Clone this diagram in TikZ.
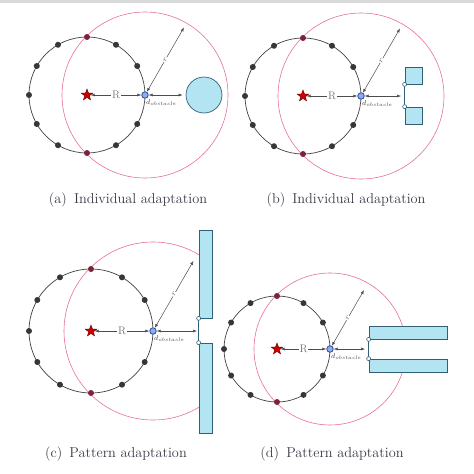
\documentclass[tikz,border=0pt]{standalone}
\usetikzlibrary{shapes.geometric,arrows.meta,calc}

\definecolor{rangepink}{RGB}{230,110,155}
\definecolor{obsfill}{RGB}{178,228,242}
\definecolor{obsdraw}{RGB}{50,95,120}
\definecolor{uavfill}{RGB}{140,175,235}
\definecolor{uavdraw}{RGB}{40,70,170}
\definecolor{dotgray}{RGB}{55,55,55}
\definecolor{dotred}{RGB}{125,35,55}
\definecolor{captext}{RGB}{60,55,70}

\tikzset{
  ring/.style={draw=black!75, line width=0.7pt},
  sensing/.style={draw=rangepink, line width=0.6pt},
  dot/.style={circle, fill=dotgray, inner sep=0pt, minimum size=6pt},
  reddot/.style={dot, fill=dotred},
  uav/.style={circle, draw=uavdraw, fill=uavfill, line width=0.8pt, inner sep=0pt, minimum size=6.5pt},
  target/.style={star, star points=5, star point ratio=2.4, fill=red!80!black, draw=red!40!black, inner sep=0pt, minimum size=12pt},
  obstacle/.style={rectangle, draw=obsdraw, fill=obsfill, line width=0.7pt, inner sep=0pt},
  hinge/.style={circle, draw=obsdraw, fill=white, line width=0.6pt, inner sep=0pt, minimum size=4pt},
  dist/.style={<->, draw=black!70, line width=0.5pt},
  caption/.style={text=captext, font=\fontsize{14.3}{16}\selectfont},
}

\begin{document}
\begin{tikzpicture}[x=1pt, y=-1pt, >={Latex[length=4pt,width=3pt]}]

\useasboundingbox (0,0) rectangle (474,474);
\fill[black!15] (0,0) rectangle (474,2.5);

% sensing ranges
\draw[sensing] (145,95) circle (83);
\draw[sensing] (361,96) circle (83);
\begin{scope}
  \clip (0,225) rectangle (199,474);
  \draw[sensing] (153,331) circle (89);
\end{scope}
\begin{scope}
  \clip (230,225) -- (474,225) -- (474,339) -- (369,339) -- (369,359) -- (474,359) -- (474,474) -- (230,474) -- cycle;
  \draw[sensing] (330,349) circle (76);
\end{scope}

% formation, target and uav
\foreach \p/\cx/\cy/\R/\len in {a/87/95/58/78, b/303/96/58/78, c/91/331/62/81, d/277/349/53/68}{
  \draw[ring] (\cx,\cy) circle (\R);
  \foreach \a in {30,60,120,150,180,210,240,300,330}
    \node[dot] (dot\p\a) at ($(\cx,\cy)+(\a:\R)$) {};
  \foreach \a in {90,270}
    \node[reddot] (dot\p\a) at ($(\cx,\cy)+(\a:\R)$) {};
  \node[target] (star\p) at (\cx,\cy) {};
  \node[uav] (uav\p) at ({\cx+\R},\cy) {};
  \draw[dist] (star\p) -- (uav\p) node[midway, fill=white, inner sep=1pt, text=black!55, font=\fontsize{11}{12}\selectfont] (Rlab\p) {R};
  \path (uav\p) ++(-60:\len) coordinate (tip\p);
  \draw[dist] (uav\p) -- (tip\p) node[midway, sloped, fill=white, inner sep=0.5pt, text=black!60, font=\footnotesize] (rlab\p) {$r$};
  \node[anchor=north west, inner sep=0pt, text=black!75, font=\scriptsize] (dlab\p) at ([xshift=1pt,yshift=-4pt]uav\p.center) {$d_{obstacle}$};
}

% (a) round obstacle
\node[obstacle, circle, minimum size=36pt] (obsa) at (204,95) {};
\draw[dist, shorten >=3pt] (uava) -- (obsa);

% (b) two blocks
\node[obstacle, minimum width=17pt, minimum height=17pt] (obsb1) at (413.5,75.5) {};
\node[obstacle, minimum width=17pt, minimum height=17pt] (obsb2) at (413.5,115.5) {};
\draw[obsdraw, line width=0.6pt] (obsb1.south west) -- (obsb2.north west);
\node[hinge] (hb1) at (obsb1.south west) {};
\node[hinge] (hb2) at (obsb2.north west) {};
\coordinate (gapb) at (405,96);
\draw[dist, shorten >=4pt] (uavb) -- (gapb);

% (c) wall with a gap
\node[obstacle, minimum width=13pt, minimum height=88pt] (obsc1) at (205.5,274) {};
\node[obstacle, minimum width=13pt, minimum height=90pt] (obsc2) at (205.5,388) {};
\draw[obsdraw, line width=0.6pt] (obsc1.south west) -- (obsc2.north west);
\node[hinge] (hc1) at (obsc1.south west) {};
\node[hinge] (hc2) at (obsc2.north west) {};
\coordinate (gapc) at (199,331);
\draw[dist, shorten >=2pt] (uavc) -- (gapc);

% (d) corridor
\node[obstacle, minimum width=78pt, minimum height=13pt] (obsd1) at (408,332.5) {};
\node[obstacle, minimum width=78pt, minimum height=13pt] (obsd2) at (408,365.5) {};
\draw[obsdraw, line width=0.6pt] (obsd1.south west) -- (obsd2.north west);
\node[hinge] (hd1) at (obsd1.south west) {};
\node[hinge] (hd2) at (obsd2.north west) {};
\coordinate (gapd) at (369,349);
\draw[dist, shorten >=4pt] (uavd) -- (gapd);

% captions
\node[caption] (capa) at (128,200) {(a)\enspace Individual adaptation};
\node[caption] (capb) at (346,200) {(b)\enspace Individual adaptation};
\node[caption] (capc) at (116,454) {(c)\enspace Pattern adaptation};
\node[caption] (capd) at (332,454) {(d)\enspace Pattern adaptation};

\end{tikzpicture}
\end{document}
